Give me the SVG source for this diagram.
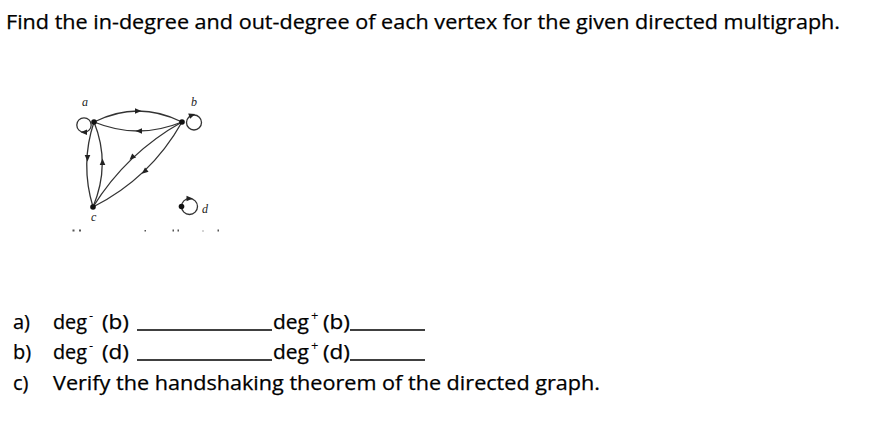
<svg xmlns="http://www.w3.org/2000/svg" width="890" height="436" viewBox="0 0 890 436">
<style>
.t{font-family:"Open Sans","Liberation Sans",sans-serif;font-size:20px;fill:#000;stroke:#000;stroke-width:0.25}
.sup{font-family:"Open Sans","Liberation Sans",sans-serif;font-size:13px;fill:#000}
.lbl{font-family:"Liberation Serif",serif;font-style:italic;font-size:12px;fill:#222}
.e{fill:none;stroke:#333;stroke-width:1.3}
.v{fill:#111}
.ah{fill:#222}
.ul{stroke:#000;stroke-width:1.7}
.mk{fill:#555}
</style>
<defs>
<path id="ah" d="M3.4,0 L-3,-2.8 L-3,2.8 Z"/>
</defs>
<rect width="890" height="436" fill="#fff"/>
<text class="t" x="6" y="29" textLength="834" lengthAdjust="spacingAndGlyphs">Find the in-degree and out-degree of each vertex for the given directed multigraph.</text>

<g id="connectors">
<path class="e" d="M94,122 Q138,100 182,122"/>
<use href="#ah" class="ah" transform="translate(138,111)"/>
<path class="e" d="M182,122 Q138,140 94,122"/>
<use href="#ah" class="ah" transform="translate(139,131) rotate(180)"/>
<path class="e" d="M94,122 Q80,164 93,207"/>
<use href="#ah" class="ah" transform="translate(87.5,158) rotate(90)"/>
<path class="e" d="M93,207 Q111,164 94,122"/>
<use href="#ah" class="ah" transform="translate(102.5,162) rotate(-90)"/>
<path class="e" d="M182,122 Q126.5,153 93,207"/>
<use href="#ah" class="ah" transform="translate(132,157.5) rotate(136)"/>
<path class="e" d="M182,122 Q150.5,178 93,207"/>
<use href="#ah" class="ah" transform="translate(144.5,171.5) rotate(140)"/>
<circle class="e" cx="84" cy="125" r="7.2"/>
<use href="#ah" class="ah" transform="translate(84,132.2) rotate(180)"/>
<circle class="e" cx="194" cy="122.5" r="7.5"/>
<use href="#ah" class="ah" transform="translate(192,115.2) rotate(-20)"/>
<circle class="e" cx="189.5" cy="206.5" r="8"/>
<use href="#ah" class="ah" transform="translate(189.5,198.5) rotate(0)"/>
</g>

<g id="node-a"><circle class="v" cx="94" cy="122" r="2.8"/><text class="lbl" x="82" y="106">a</text></g>
<g id="node-b"><circle class="v" cx="182" cy="122" r="2.8"/><text class="lbl" x="191" y="106">b</text></g>
<g id="node-c"><circle class="v" cx="93" cy="207" r="2.8"/><text class="lbl" x="91" y="221">c</text></g>
<g id="node-d"><circle class="v" cx="181.5" cy="206.5" r="2.8"/><text class="lbl" x="202" y="213">d</text></g>

<g id="marks">
<rect class="mk" x="72.5" y="229.5" width="2" height="2"/>
<rect class="mk" x="79" y="229.5" width="2" height="2"/>
<rect class="mk" x="144.5" y="230" width="1.5" height="1.5"/>
<rect class="mk" x="172.5" y="229.5" width="1.5" height="2"/>
<rect class="mk" x="177.5" y="229.5" width="1.5" height="2"/>
<rect class="mk" x="202.5" y="230.5" width="1" height="1"/>
<rect class="mk" x="217.5" y="229.5" width="1.5" height="2"/>
</g>

<g id="questions">
<text class="t" x="13" y="329">a)</text>
<text class="t" x="53" y="329" textLength="34" lengthAdjust="spacingAndGlyphs">deg</text>
<text class="sup" x="89" y="320">-</text>
<text class="t" x="102" y="329" textLength="27" lengthAdjust="spacingAndGlyphs">(b)</text>
<line class="ul" x1="137" y1="330" x2="272" y2="330"/>
<text class="t" x="273" y="329" textLength="36" lengthAdjust="spacingAndGlyphs">deg</text>
<text class="sup" x="311" y="320">+</text>
<text class="t" x="323" y="329" textLength="27" lengthAdjust="spacingAndGlyphs">(b)</text>
<line class="ul" x1="350" y1="330" x2="425" y2="330"/>

<text class="t" x="13" y="359">b)</text>
<text class="t" x="53" y="359" textLength="34" lengthAdjust="spacingAndGlyphs">deg</text>
<text class="sup" x="89" y="350">-</text>
<text class="t" x="102" y="359" textLength="27" lengthAdjust="spacingAndGlyphs">(d)</text>
<line class="ul" x1="137" y1="360" x2="272" y2="360"/>
<text class="t" x="273" y="359" textLength="36" lengthAdjust="spacingAndGlyphs">deg</text>
<text class="sup" x="311" y="350">+</text>
<text class="t" x="323" y="359" textLength="27" lengthAdjust="spacingAndGlyphs">(d)</text>
<line class="ul" x1="350" y1="360" x2="425" y2="360"/>

<text class="t" x="13" y="390">c)</text>
<text class="t" x="53" y="390" textLength="547" lengthAdjust="spacingAndGlyphs">Verify the handshaking theorem of the directed graph.</text>
</g>
</svg>
